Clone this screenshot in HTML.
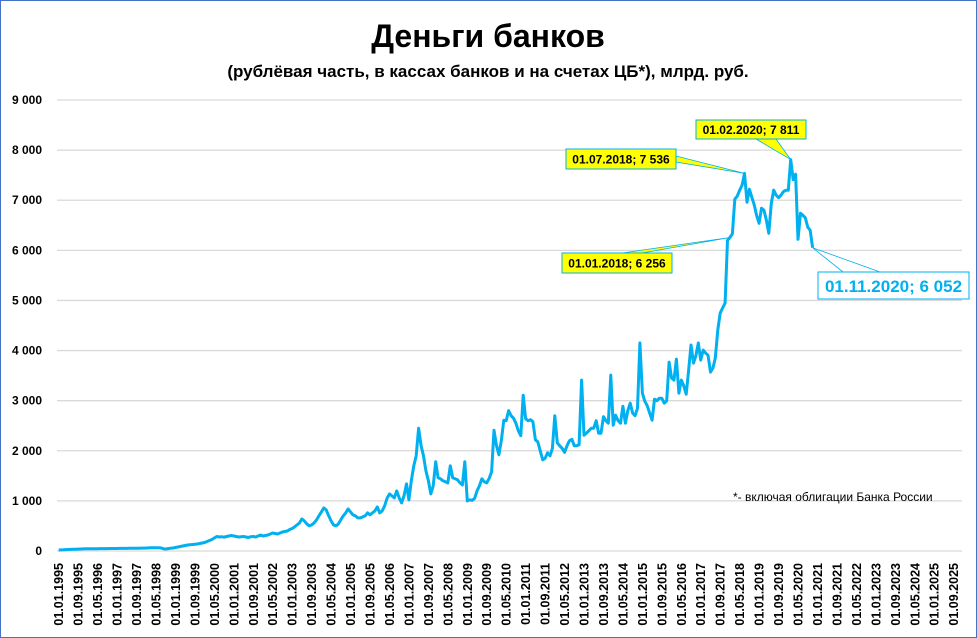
<!DOCTYPE html>
<html><head><meta charset="utf-8"><style>
html,body{margin:0;padding:0;background:#fff}
svg{display:block;font-family:"Liberation Sans",sans-serif}
</style></head><body>
<svg id="chart" width="977" height="638" viewBox="0 0 977 638">
<rect x="0.5" y="0.5" width="976" height="637" fill="#fff" stroke="#4472C4"/>
<text x="488" y="47" text-anchor="middle" font-size="32" font-weight="bold">Деньги банков</text>
<text x="488" y="77" text-anchor="middle" font-size="17" font-weight="bold">(рублёвая часть, в кассах банков и на счетах ЦБ*), млрд. руб.</text>
<g id="grid"></g><g id="ylabels"></g><g id="xlabels"></g>
<path id="series" fill="none" stroke="#00B0F0" stroke-width="3" stroke-linejoin="round"/>
<g id="notes"></g>
<text x="733" y="501" font-size="12">*- включая облигации Банка России</text>
</svg>
<script>
const yTicks=[0,1000,2000,3000,4000,5000,6000,7000,8000,9000];
const yTickLabels=["0","1 000","2 000","3 000","4 000","5 000","6 000","7 000","8 000","9 000"];
const startYear=1995;
const values=[
20,22,24,28,30,32,34,36,38,40,42,44,
44,45,45,46,46,47,47,48,48,49,50,50,
50,51,51,52,52,53,53,54,55,56,57,58,
60,62,63,64,65,65,62,45,40,48,55,60,
70,80,90,100,110,120,125,130,135,140,150,160,
170,190,210,230,260,290,280,285,275,290,300,310,
300,290,280,285,290,280,270,285,290,280,300,320,
300,310,320,340,360,350,340,360,380,390,400,430,
450,480,520,560,640,600,540,500,520,560,620,700,
780,860,820,700,600,520,500,540,620,700,760,840,
780,720,700,660,660,680,700,760,720,760,800,880,
760,800,900,1050,1140,1100,1060,1200,1060,960,1100,1340,
1020,1400,1700,1900,2450,2100,1900,1600,1400,1140,1300,1780,
1460,1440,1400,1380,1360,1700,1460,1440,1420,1360,1320,1780,
1000,1020,1010,1050,1200,1300,1440,1380,1360,1450,1580,2410,
2100,1920,2200,2610,2600,2800,2700,2650,2550,2400,2300,3110,
2640,2600,2620,2580,2220,2180,2000,1820,1850,1960,1900,2050,
2700,2160,2100,2050,1970,2100,2200,2230,2100,2100,2120,3410,
2310,2350,2400,2450,2450,2600,2350,2350,2680,2600,2550,3510,
2510,2710,2600,2550,2890,2550,2800,2950,2750,2700,2850,4150,
3150,2990,2900,2750,2610,3030,3000,3050,3050,2950,3000,3770,
3450,3410,3830,3150,3410,3300,3130,3600,4110,3750,3900,4150,
3810,4010,3950,3910,3570,3650,3850,4410,4750,4850,4950,6200,
6256,6330,7020,7080,7200,7300,7536,6960,7220,7060,6900,6690,
6540,6840,6800,6600,6340,6940,7200,7100,7050,7100,7170,7200,
7200,7811,7410,7520,6220,6740,6700,6650,6460,6400,6052];
const noteIdx=[276,282,301,310];
const noteText=["01.01.2018;  6 256","01.07.2018;  7 536","01.02.2020;  7 811","01.11.2020;  6 052"];
const xCount=47;
const xStepMonths=8;

const NS="http://www.w3.org/2000/svg";
const x=m=>58.7+m*2.432;
const y=v=>551-v*0.05011;
function mk(tag,attrs,parent){const e=document.createElementNS(NS,tag);for(const k in attrs)e.setAttribute(k,attrs[k]);parent.appendChild(e);return e;}
const grid=document.getElementById('grid'),yl=document.getElementById('ylabels'),xl=document.getElementById('xlabels');
yTicks.forEach((t,i)=>{
 const l=mk('line',{x1:57,x2:962,y1:y(t),y2:y(t),stroke:'#D9D9D9','stroke-width':1.3},grid);
 
 
 const tx=mk('text',{x:42,y:y(t)+4,'text-anchor':'end','font-size':12,'font-weight':'bold'},yl);
 tx.textContent=yTickLabels[i];
 
 
});
for(let i=0;i<xCount;i++){
 const m=i*xStepMonths, yr=startYear+Math.floor(m/12), mo=m%12+1;
 const lab='01.'+String(mo).padStart(2,'0')+'.'+yr;
 const cx=x(m)+4.5;
 const tx=mk('text',{x:cx,y:563,'text-anchor':'end','font-size':12.5,'font-weight':'bold',transform:`rotate(-90 ${cx} 563)`},xl);
 tx.textContent=lab;
 
 
}
document.getElementById('series').setAttribute('d',values.map((v,i)=>(i?'L':'M')+x(i).toFixed(1)+' '+y(v).toFixed(1)).join(''));
const notes=document.getElementById('notes');
const boxes=[[562,253,110,20],[566,149,110,20],[696,120,110,19],[818,272,151,27]];
noteIdx.forEach((m,i)=>{
 const px=x(m),py=y(values[m]);const [bx,by,bw,bh]=boxes[i];
 const last=i===3;
 let a,b;
 if(i===0){a=[bx+60,by];b=[bx+80,by];}
 else if(i===1){a=[bx+bw,by+7];b=[bx+bw,by+13];}
 else if(i===2){a=[bx+60,by+bh];b=[bx+80,by+bh];}
 else {a=[bx+25,by];b=[bx+62,by];}
 const p=mk('polygon',{points:`${a[0]},${a[1]} ${px},${py} ${b[0]},${b[1]}`,fill:last?'none':'#FFFF00',stroke:'#00B0F0','stroke-width':0.8},notes);
 
 
 const r=mk('rect',{x:bx,y:by,width:bw,height:bh,fill:last?'#fff':'#FFFF00',stroke:'#00B0F0','stroke-width':1},notes);
 
 
 const t=mk('text',{x:bx+bw/2,y:by+bh/2+(last?6.5:4.5),'text-anchor':'middle','font-size':last?17:12,'font-weight':'bold',fill:last?'#00B0F0':'#000'},notes);
 t.textContent=noteText[i];
 
 
});
</script>
</body></html>
